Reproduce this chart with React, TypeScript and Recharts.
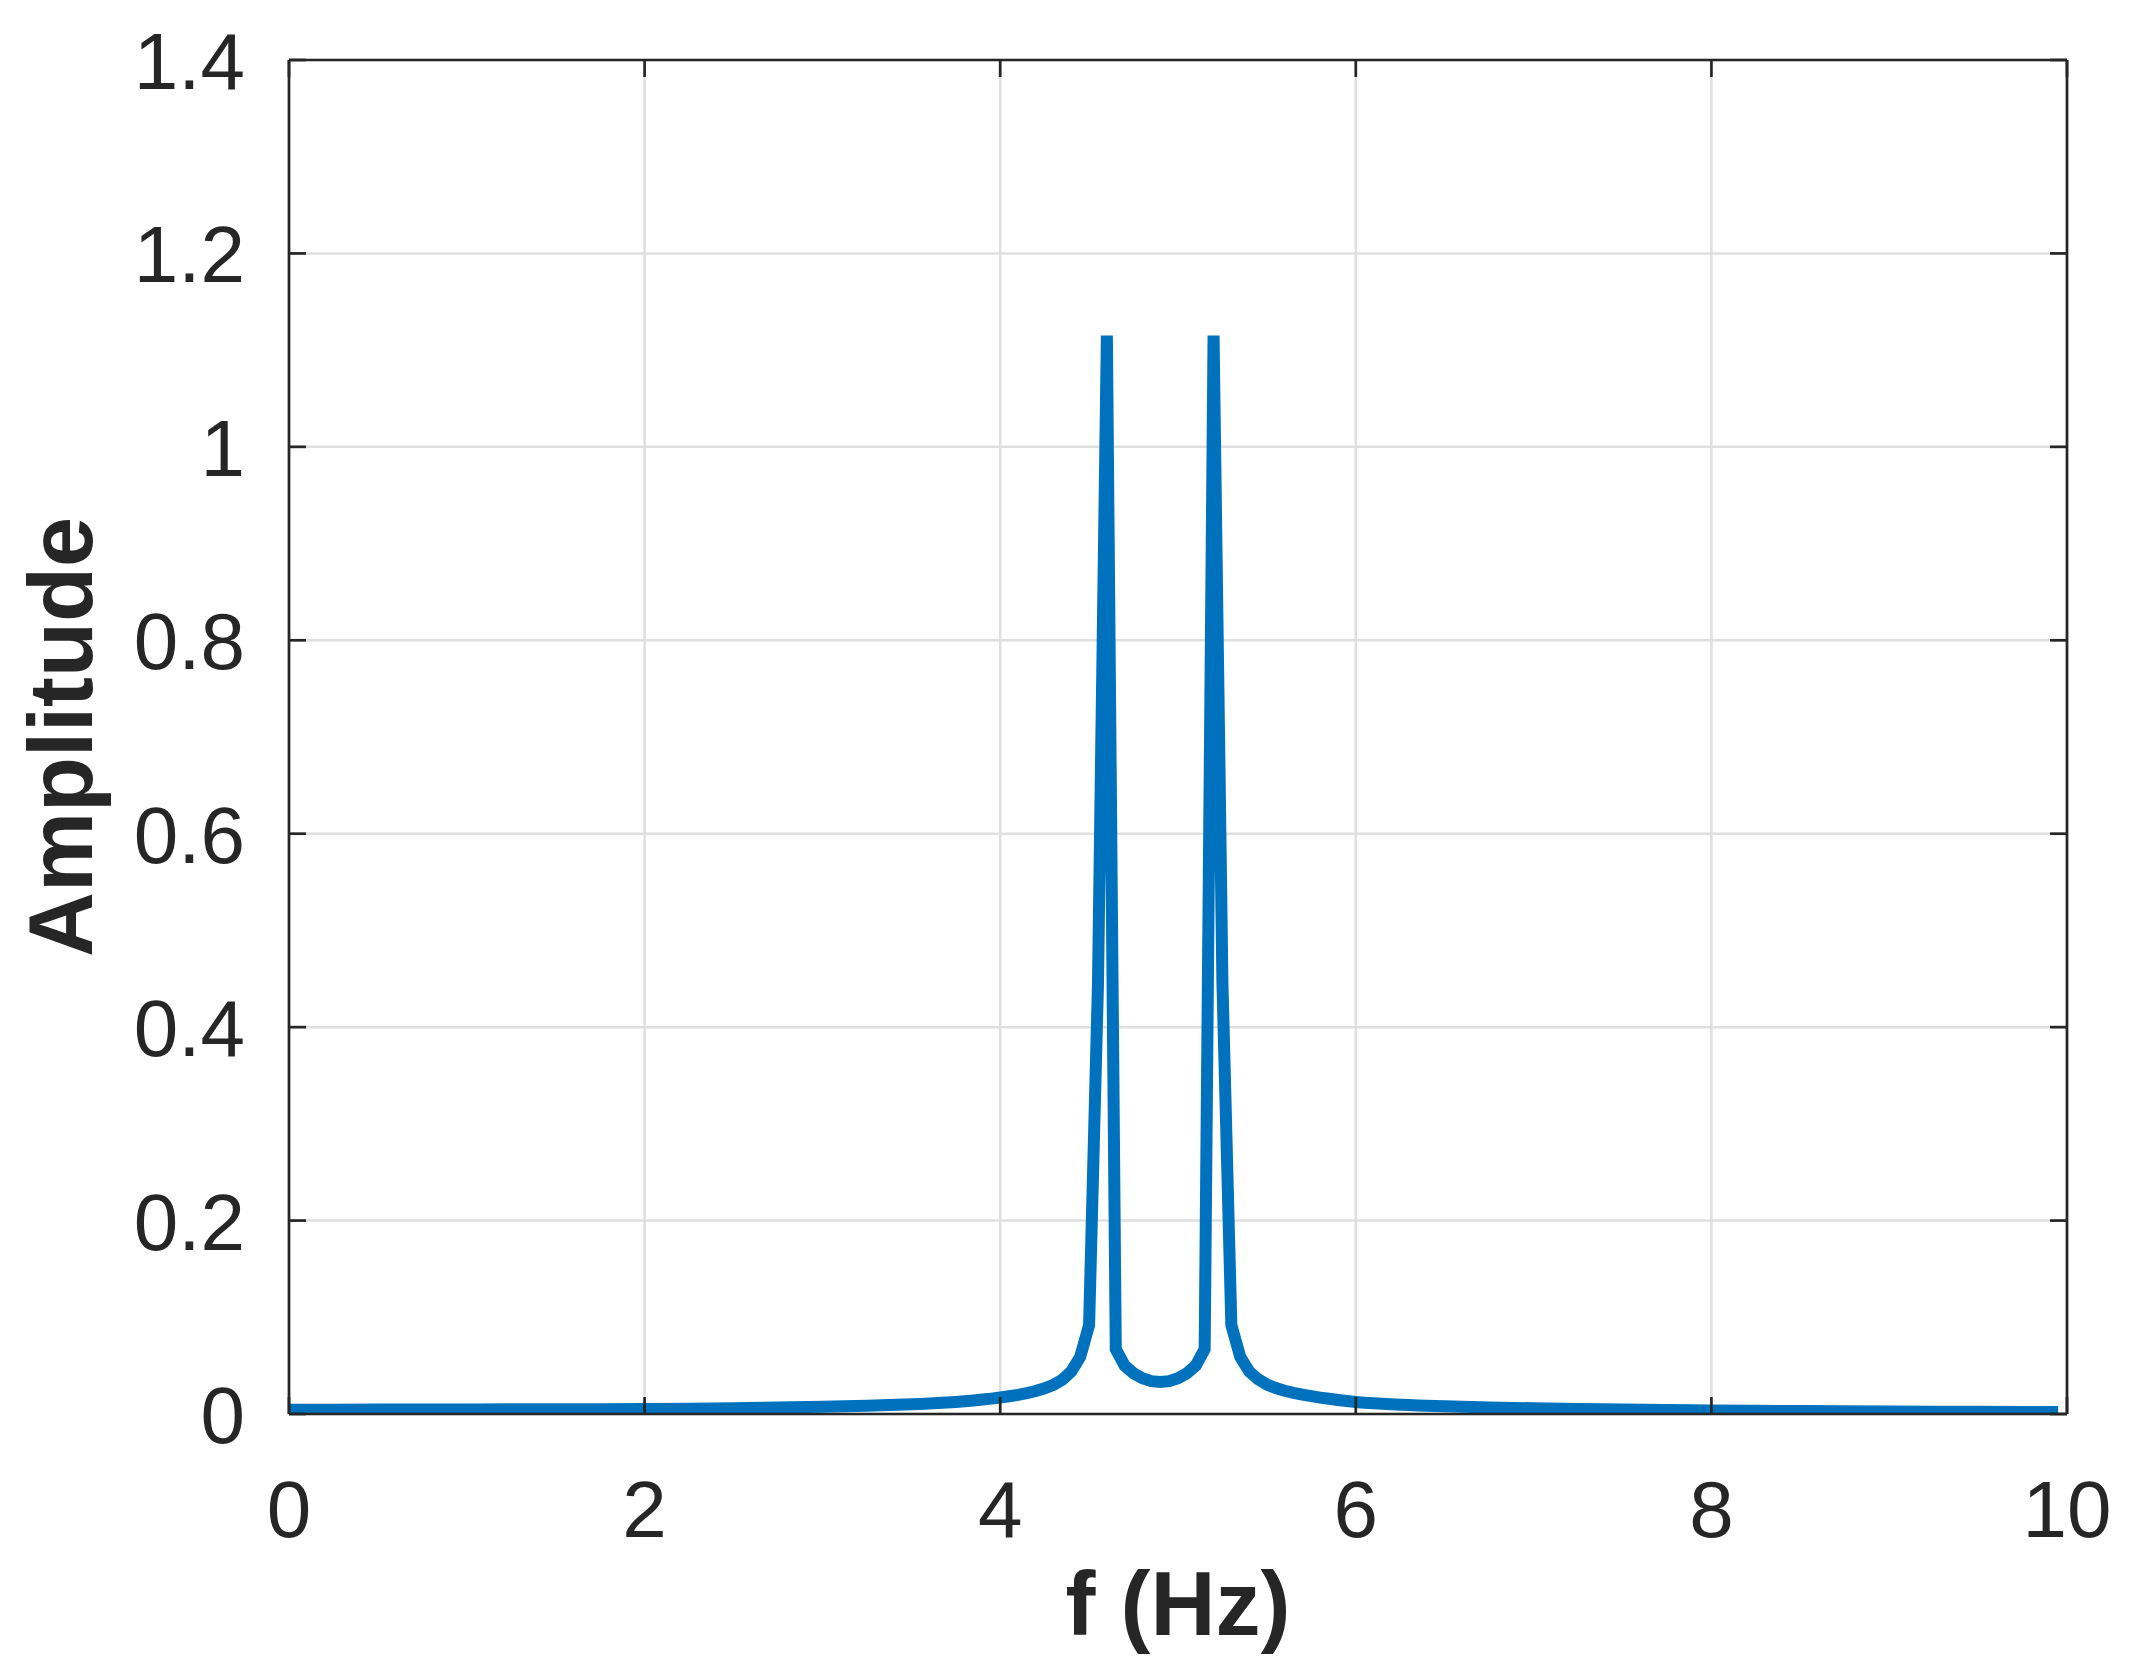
import React from 'react';
import { LineChart, Line, XAxis, YAxis, CartesianGrid } from 'recharts';

const freqHz = [
  0, 0.25, 0.5, 0.75, 1, 1.25, 1.5, 1.75, 2, 2.25, 2.5, 2.75, 3, 3.25, 3.5,
  3.55, 3.6, 3.65, 3.7, 3.75, 3.8, 3.85, 3.9, 3.95, 4, 4.05, 4.1, 4.15, 4.2, 4.25,
  4.3, 4.35, 4.4, 4.45, 4.5, 4.55, 4.6, 4.65, 4.7, 4.75, 4.8, 4.85, 4.9, 4.95, 5,
  5.05, 5.1, 5.15, 5.2, 5.25, 5.3, 5.35, 5.4, 5.45, 5.5, 5.55, 5.6, 5.65, 5.7, 5.75,
  5.8, 5.85, 5.9, 5.95, 6, 6.05, 6.1, 6.15, 6.2, 6.25, 6.3, 6.35, 6.4, 6.45, 6.5,
  6.75, 7, 7.25, 7.5, 7.75, 8, 8.25, 8.5, 8.75, 9, 9.25, 9.5, 9.75, 9.95,
];

const amplitude = [
  0.0045, 0.0045, 0.0046, 0.0046, 0.0047, 0.0048, 0.0049, 0.005, 0.0052, 0.0055, 0.006, 0.0066, 0.0074, 0.0085, 0.01,
  0.0104, 0.0108, 0.0113, 0.0119, 0.0125, 0.0132, 0.014, 0.0149, 0.0159, 0.017, 0.0183, 0.0198, 0.0216, 0.0238, 0.0266,
  0.0302, 0.0355, 0.044, 0.059, 0.092, 0.445, 1.115, 0.067, 0.05, 0.042, 0.037, 0.034, 0.033, 0.034, 0.037,
  0.042, 0.05, 0.067, 1.115, 0.445, 0.092, 0.059, 0.044, 0.036, 0.0305, 0.0268, 0.024, 0.0218, 0.02, 0.0184,
  0.017, 0.0158, 0.0145, 0.0134, 0.0124, 0.0116, 0.011, 0.0105, 0.01, 0.0096, 0.0092, 0.0088, 0.0085, 0.0082, 0.0079,
  0.0068, 0.0059, 0.0052, 0.0046, 0.0041, 0.0036, 0.0033, 0.003, 0.0028, 0.0026, 0.0024, 0.0022, 0.0021, 0.002,
];

const xTicks = [0, 2, 4, 6, 8, 10];
const yTicks = [0, 0.2, 0.4, 0.6, 0.8, 1, 1.2, 1.4];
const xLabel = 'f (Hz)';
const yLabel = 'Amplitude';

const data = freqHz.map((f, i) => ({ f, a: amplitude[i] }));

const W = 2132;
const H = 1671;
const PL = 281;
const PR = 2059;
const PT = 52;
const PB = 1406;
const TICK_LEN = 17;
const AX = '#262626';
const GRID = '#dfdfdf';
const FONT = '"Liberation Sans", Arial, Helvetica, sans-serif';

const BottomTick = (props: any) => {
  const { x, payload } = props;
  return (
    <g>
      <line x1={x} x2={x} y1={PB} y2={PB - TICK_LEN} stroke={AX} strokeWidth={2.7} />
      <text x={x} y={PB + 123} textAnchor="middle" fontSize={80} fill={AX} fontFamily={FONT}>
        {String(payload.value)}
      </text>
    </g>
  );
};

const LeftTick = (props: any) => {
  const { y, payload } = props;
  return (
    <g>
      <line x1={PL} x2={PL + TICK_LEN} y1={y} y2={y} stroke={AX} strokeWidth={2.7} />
      <text x={PL - 44} y={y + 29} textAnchor="end" fontSize={80} fill={AX} fontFamily={FONT}>
        {String(payload.value)}
      </text>
    </g>
  );
};

const TopTick = (props: any) => {
  const { x } = props;
  return <line x1={x} x2={x} y1={PT} y2={PT + TICK_LEN} stroke={AX} strokeWidth={2.7} />;
};

const RightTick = (props: any) => {
  const { y } = props;
  return <line x1={PR} x2={PR - TICK_LEN} y1={y} y2={y} stroke={AX} strokeWidth={2.7} />;
};

const XLabelContent = () => (
  <text x={(PL + PR) / 2} y={1627} textAnchor="middle" fontSize={90} fontWeight="bold" fill={AX} fontFamily={FONT}>
    {xLabel}
  </text>
);

const YLabelContent = () => {
  const cy = (PT + PB) / 2;
  return (
    <text
      x={84}
      y={cy}
      transform={`rotate(-90, 84, ${cy})`}
      textAnchor="middle"
      fontSize={90}
      fontWeight="bold"
      fill={AX}
      fontFamily={FONT}
    >
      {yLabel}
    </text>
  );
};

export default function App() {
  return (
    <div style={{ width: W, height: H, background: '#fff' }}>
      <LineChart width={W} height={H} data={data} margin={{ top: 51, right: 72, bottom: 0, left: 0 }}>
        <CartesianGrid stroke={GRID} strokeWidth={2.5} />
        <XAxis
          dataKey="f"
          type="number"
          domain={[0, 10]}
          ticks={xTicks}
          height={265}
          tickSize={0}
          tickMargin={0}
          tickLine={false}
          tick={BottomTick}
          axisLine={{ stroke: AX, strokeWidth: 2.7 }}
          label={XLabelContent}
          allowDataOverflow
        />
        <XAxis
          xAxisId="top"
          orientation="top"
          dataKey="f"
          type="number"
          domain={[0, 10]}
          ticks={xTicks}
          height={1}
          tickSize={0}
          tickMargin={0}
          tickLine={false}
          tick={TopTick}
          axisLine={{ stroke: AX, strokeWidth: 2.7 }}
          allowDataOverflow
        />
        <YAxis
          type="number"
          domain={[0, 1.4]}
          ticks={yTicks}
          width={281}
          tickSize={0}
          tickMargin={0}
          tickLine={false}
          tick={LeftTick}
          axisLine={{ stroke: AX, strokeWidth: 2.7 }}
          label={YLabelContent}
          allowDataOverflow
        />
        <YAxis
          yAxisId="right"
          orientation="right"
          type="number"
          domain={[0, 1.4]}
          ticks={yTicks}
          width={1}
          tickSize={0}
          tickMargin={0}
          tickLine={false}
          tick={RightTick}
          axisLine={{ stroke: AX, strokeWidth: 2.7 }}
          allowDataOverflow
        />
        <Line
          type="linear"
          dataKey="a"
          stroke="#0072BD"
          strokeWidth={12}
          dot={false}
          activeDot={false}
          isAnimationActive={false}
        />
      </LineChart>
    </div>
  );
}
